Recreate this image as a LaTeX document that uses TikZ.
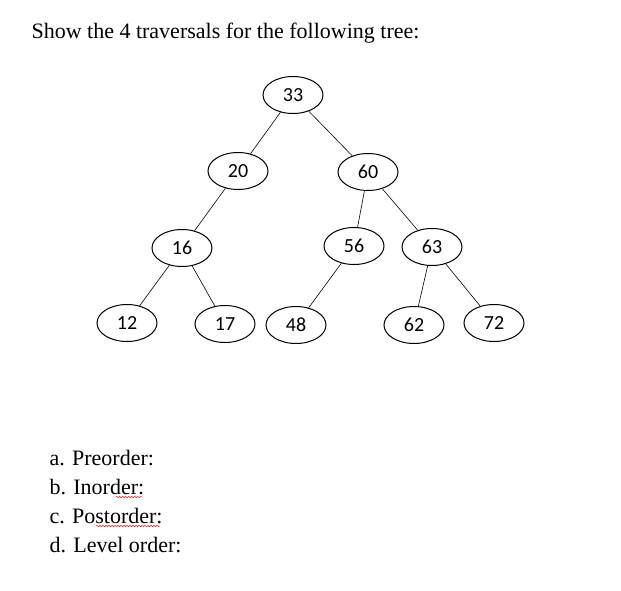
\documentclass[tikz,border=0pt]{standalone}
\usepackage{fontspec}
\setmainfont{Liberation Serif}
\newfontfamily\numfont{Carlito}
\usetikzlibrary{shapes.geometric,decorations.pathmorphing}

\tikzset{
  key/.style={ellipse, draw, line width=1pt, fill=white, minimum width=60pt, minimum height=37pt,
    inner sep=0pt, font=\numfont\fontsize{20}{22}\selectfont},
  branch/.style={draw, line width=0.6pt},
  question/.style={anchor=base west, font=\fontsize{22}{26}\selectfont},
  squiggle/.style={red, thin, decorate, decoration={snake, amplitude=0.8pt, segment length=3pt}}
}

\begin{document}
\begin{tikzpicture}[x=1pt,y=-1pt]
  \useasboundingbox (0,0) rectangle (621,591);

  \node[question] (title) at (28,39) {Show the 4 traversals for the following tree:};

  % Tree nodes
  \node[key] (n33) at (293,95) {33};
  \node[key] (n20) at (238,171) {20};
  \node[key] (n60) at (368,172) {60};
  \node[key] (n16) at (182,248) {16};
  \node[key] (n56) at (354,246) {56};
  \node[key] (n63) at (432,247) {63};
  \node[key] (n12) at (127,323) {12};
  \node[key] (n17) at (225,324) {17};
  \node[key] (n48) at (296,325) {48};
  \node[key] (n62) at (414,325) {62};
  \node[key] (n72) at (494,323) {72};

  % Branches
  \foreach \a/\b in {n33/n20,n33/n60,n20/n16,n60/n56,n60/n63,n16/n12,n16/n17,n56/n48,n63/n62,n63/n72}
    \draw[branch] (\a) -- (\b);

  % Questions
  \node[question] (qa) at (46,465) {a. Preorder:};
  \node[question] (qb) at (46,494) {b. Inorder:};
  \node[question] (qc) at (46,523) {c. Postorder:};
  \node[question] (qd) at (46,552) {d. Level order:};

  % Spelling marks
  \draw[squiggle] ([xshift=-32pt,yshift=-3pt]qb.base east) -- ([xshift=-6pt,yshift=-3pt]qb.base east);
  \draw[squiggle] ([xshift=-70pt,yshift=-3pt]qc.base east) -- ([xshift=-6pt,yshift=-3pt]qc.base east);
\end{tikzpicture}
\end{document}
